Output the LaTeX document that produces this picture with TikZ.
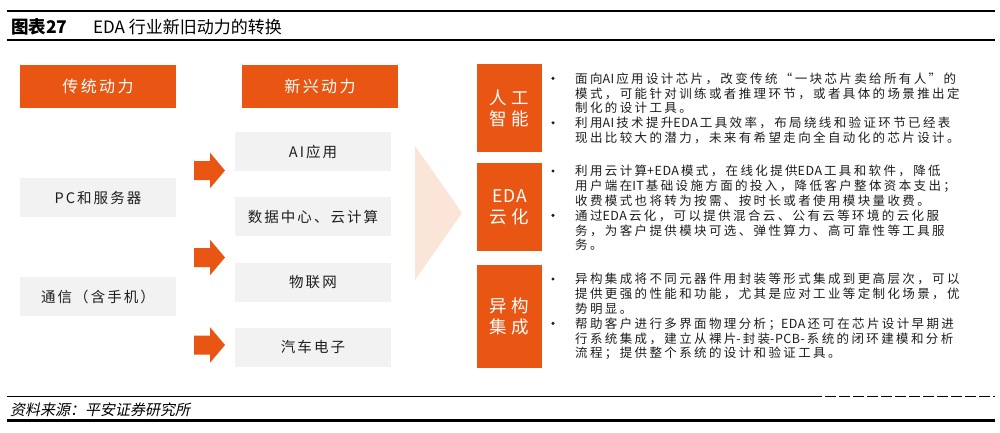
\documentclass[tikz,border=0pt]{standalone}
\usepackage{fontspec}
\setmainfont{Noto Sans CJK SC}
\newfontfamily\cjkbody[LetterSpace=19]{Noto Sans CJK SC}
\newfontfamily\cjklat[LetterSpace=4]{Noto Sans CJK SC}
\newfontfamily\cjkbox[LetterSpace=14]{Noto Sans CJK SC}
\newfontfamily\cjkhdr[LetterSpace=15]{Noto Sans CJK SC}
\newfontfamily\cjkright[LetterSpace=25]{Noto Sans CJK SC}
\newfontfamily\cjkeda[LetterSpace=6]{Noto Sans CJK SC}
\newfontfamily\cjkslant[FakeSlant=0.2]{Noto Sans CJK SC}
\newcommand\lat[1]{{\cjklat #1}\hspace{2pt}}
\definecolor{orangeC}{HTML}{E95513}
\definecolor{grayC}{HTML}{F2F2F2}
\definecolor{peachC}{HTML}{FBE4D8}
\definecolor{textC}{HTML}{1E1E1E}
\tikzset{
  hdrbox/.style={fill=orangeC, text=white, minimum width=156pt, minimum height=43pt, inner sep=0pt, font=\cjkhdr\fontsize{16}{19}\selectfont},
  graybox/.style={fill=grayC, text=textC, minimum width=156pt, minimum height=39pt, inner sep=0pt, font=\cjkbox\fontsize{14.5}{17}\selectfont},
  sidebox/.style={fill=orangeC, text=white, minimum width=65pt, inner sep=0pt, align=center, font=\cjkright\fontsize{17.5}{21}\selectfont},
  bodyline/.style={anchor=base west, inner sep=0pt, text=textC, font=\cjkbody\fontsize{12.5}{14}\selectfont},
  bulletmark/.style={circle, fill=textC, inner sep=0pt, minimum size=3.4pt},
  rulethick/.style={line width=2.6pt, black},
  rulethin/.style={line width=1.9pt, black},
  blockarrow/.pic={\fill[orangeC] (0,-9.5) -- (16,-9.5) -- (16,-17.8) -- (31,0) -- (16,17.8) -- (16,9.5) -- (0,9.5) -- cycle;}
}
\newcommand\tline[3]{\node[bodyline] (#1) at (575,#2+4.8) {#3};}
\newcommand\bmark[2]{\node[bulletmark] (#1) at (553,#2) {};}
\begin{document}
\begin{tikzpicture}[x=1pt,y=-1pt]
\useasboundingbox[fill=white] (0,0) rectangle (1000,432);
% title rules
\draw[rulethick] (7,11) -- (995,11);
\draw[rulethin] (7,40) -- (995,40);
\node[anchor=west, inner sep=0pt, font=\fontsize{17.5}{20}\selectfont\bfseries] (title1) at (11,27) {图表27};
\node[anchor=west, inner sep=0pt, font=\fontsize{17}{20}\selectfont] (title2) at (93,27) {EDA 行业新旧动力的转换};
% left columns
\node[hdrbox] (old) at (98,86.5) {传统动力};
\node[hdrbox] (new) at (320,86.5) {新兴动力};
\node[graybox] (pc) at (98,197.5) {PC和服务器};
\node[graybox] (comm) at (98,296.5) {通信（含手机）};
\node[graybox] (ai) at (313,151.5) {AI应用};
\node[graybox] (dc) at (313,216.5) {数据中心、云计算};
\node[graybox] (iot) at (313,282) {物联网};
\node[graybox] (auto) at (313,347) {汽车电子};
\pic at (194,170.5) {blockarrow};
\pic at (194,257.5) {blockarrow};
\pic at (194,345) {blockarrow};
% chevron
\fill[peachC] (415,146) -- (462,213) -- (415,280) -- cycle;
% right side boxes
\node[sidebox, minimum height=88pt] (r1) at (509.5,108) {人工\\智能};
\node[sidebox, minimum height=88pt] (r2) at (509.5,207) {{\cjkeda EDA}\\云化};
\node[sidebox, minimum height=103pt] (r3) at (509.5,316.5) {异构\\集成};
% block 1
\bmark{m1a}{78.4}
\tline{l1a}{78.4}{面向\lat{AI}应用设计芯片，改变传统“一块芯片卖给所有人”的}
\tline{l1b}{93.2}{模式，可能针对训练或者推理环节，或者具体的场景推出定}
\tline{l1c}{108}{制化的设计工具。}
\bmark{m1b}{122.8}
\tline{l1d}{122.8}{利用\lat{AI}技术提升\lat{EDA}工具效率，布局绕线和验证环节已经表}
\tline{l1e}{137.6}{现出比较大的潜力，未来有希望走向全自动化的芯片设计。}
% block 2
\bmark{m2a}{171}
\tline{l2a}{171}{利用云计算\lat{+EDA}模式，在线化提供\lat{EDA}工具和软件，降低}
\tline{l2b}{185.8}{用户端在\lat{IT}基础设施方面的投入，降低客户整体资本支出；}
\tline{l2c}{200.6}{收费模式也将转为按需、按时长或者使用模块量收费。}
\bmark{m2b}{215.4}
\tline{l2d}{215.4}{通过\lat{EDA}云化，可以提供混合云、公有云等环境的云化服}
\tline{l2e}{230.2}{务，为客户提供模块可选、弹性算力、高可靠性等工具服}
\tline{l2f}{245}{务。}
% block 3
\bmark{m3a}{279}
\tline{l3a}{279}{异构集成将不同元器件用封装等形式集成到更高层次，可以}
\tline{l3b}{293.8}{提供更强的性能和功能，尤其是应对工业等定制化场景，优}
\tline{l3c}{308.6}{势明显。}
\bmark{m3b}{323.4}
\tline{l3d}{323.4}{帮助客户进行多界面物理分析；\lat{EDA}还可在芯片设计早期进}
\tline{l3e}{338.2}{行系统集成，建立从裸片\lat{-}封装\lat{-PCB-}系统的闭环建模和分析}
\tline{l3f}{353}{流程；提供整个系统的设计和验证工具。}
% bottom rules and source
\draw[rulethin] (7,396.5) -- (811,396.5);
\draw[rulethin, dash pattern=on 11pt off 3pt] (811,396.5) -- (995,396.5);
\node[anchor=west, inner sep=0pt, font=\cjkslant\fontsize{15}{18}\selectfont] (src) at (10,410) {资料来源：平安证券研究所};
\draw[rulethick] (7,420.5) -- (995,420.5);
\end{tikzpicture}
\end{document}
